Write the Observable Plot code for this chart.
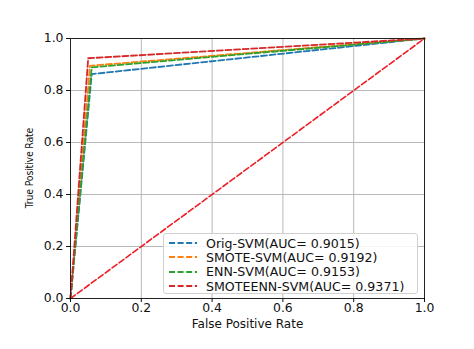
<!DOCTYPE html>
<html>
<head>
<meta charset="utf-8">
<script src="https://cdn.jsdelivr.net/npm/d3@7"></script>
<script src="https://cdn.jsdelivr.net/npm/@observablehq/plot@0.6"></script>
<style>
  html, body { margin: 0; padding: 0; background: #fff; }
  #wrap { position: relative; width: 474px; height: 349px; font-family: "DejaVu Sans", sans-serif; }
  #legend { position: absolute; left: 163px; top: 233px; width: 255px; height: 61px; box-sizing: border-box;
    border: 1px solid #d0d0d0; border-radius: 3px; background: rgba(255,255,255,0.85); padding: 2px 0 0 4px; }
  .row { display: flex; align-items: center; height: 14.3px; font-size: 12.6px; color: #111; white-space: nowrap; }
  .row svg { margin-right: 8px; }
  #ylab { position: absolute; left: 29px; top: 168px; transform: translate(-50%,-50%) rotate(-90deg);
    font-family: "DejaVu Sans Condensed", "DejaVu Sans", sans-serif; font-size: 10.5px; color: #111; white-space: nowrap; letter-spacing: -0.2px; }
</style>
</head>
<body>
<div id="wrap"></div>
<script>
const series = ["Orig-SVM", "SMOTE-SVM", "ENN-SVM", "SMOTEENN-SVM"];
const auc = [0.9015, 0.9192, 0.9153, 0.9371];
const fpr = [0.06, 0.055, 0.06, 0.05];
const tpr = [0.863, 0.895, 0.889, 0.924];
const colors = ["#1f77b4", "#ff7f0e", "#2ca02c", "#d62728"];
const chanceLine = [[0, 0], [1, 1]];
const ticks = [0, 0.2, 0.4, 0.6, 0.8, 1.0];

const rows = [];
series.forEach((s, i) => {
  [[0, 0], [fpr[i], tpr[i]], [1, 1]].forEach(([x, y]) => rows.push({series: s, x, y}));
});
const chance = chanceLine.map(([x, y]) => ({x, y}));

const dash = "6,2.6";
const plot = Plot.plot({
  width: 474,
  height: 349,
  marginLeft: 70,
  marginRight: 50,
  marginTop: 38,
  marginBottom: 51,
  style: {fontFamily: "DejaVu Sans, sans-serif", fontSize: "12.4px", color: "#111", background: "#fff"},
  x: {domain: [0, 1], ticks, tickFormat: d3.format(".1f"), tickSize: 4, label: null},
  y: {domain: [0, 1], ticks, tickFormat: d3.format(".1f"), tickSize: 4, label: null},
  color: {domain: series, range: colors},
  marks: [
    Plot.gridX(ticks, {stroke: "#b0b0b0", strokeOpacity: 1, strokeWidth: 0.9}),
    Plot.gridY(ticks, {stroke: "#b0b0b0", strokeOpacity: 1, strokeWidth: 0.9}),
    Plot.line(rows, {x: "x", y: "y", z: "series", stroke: "series", strokeWidth: 1.8, strokeDasharray: dash}),
    Plot.line(chance, {x: "x", y: "y", stroke: "#ee1c25", strokeWidth: 1.6, strokeDasharray: dash}),
    Plot.frame({stroke: "#222", strokeWidth: 1}),
    Plot.axisX({ticks, tickFormat: d3.format(".1f"), tickSize: 4, tickPadding: 1, label: null}),
    Plot.axisY({ticks, tickFormat: d3.format(".1f"), tickSize: 4, tickPadding: 3, label: null}),
    Plot.text(["False Positive Rate"], {frameAnchor: "bottom", dy: 29, fontSize: 12, fill: "#111"})
  ]
});
const wrap = document.getElementById("wrap");
wrap.appendChild(plot);

const ylab = document.createElement("div");
ylab.id = "ylab";
ylab.textContent = "True Positive Rate";
wrap.appendChild(ylab);

const legend = document.createElement("div");
legend.id = "legend";
series.forEach((s, i) => {
  const row = document.createElement("div");
  row.className = "row";
  row.innerHTML = `<svg width="30" height="6"><line x1="1" y1="3" x2="29" y2="3" stroke="${colors[i]}" stroke-width="1.8" stroke-dasharray="${dash}"/></svg><span>${s}(AUC= ${auc[i].toFixed(4)})</span>`;
  legend.appendChild(row);
});
wrap.appendChild(legend);
</script>
</body>
</html>
